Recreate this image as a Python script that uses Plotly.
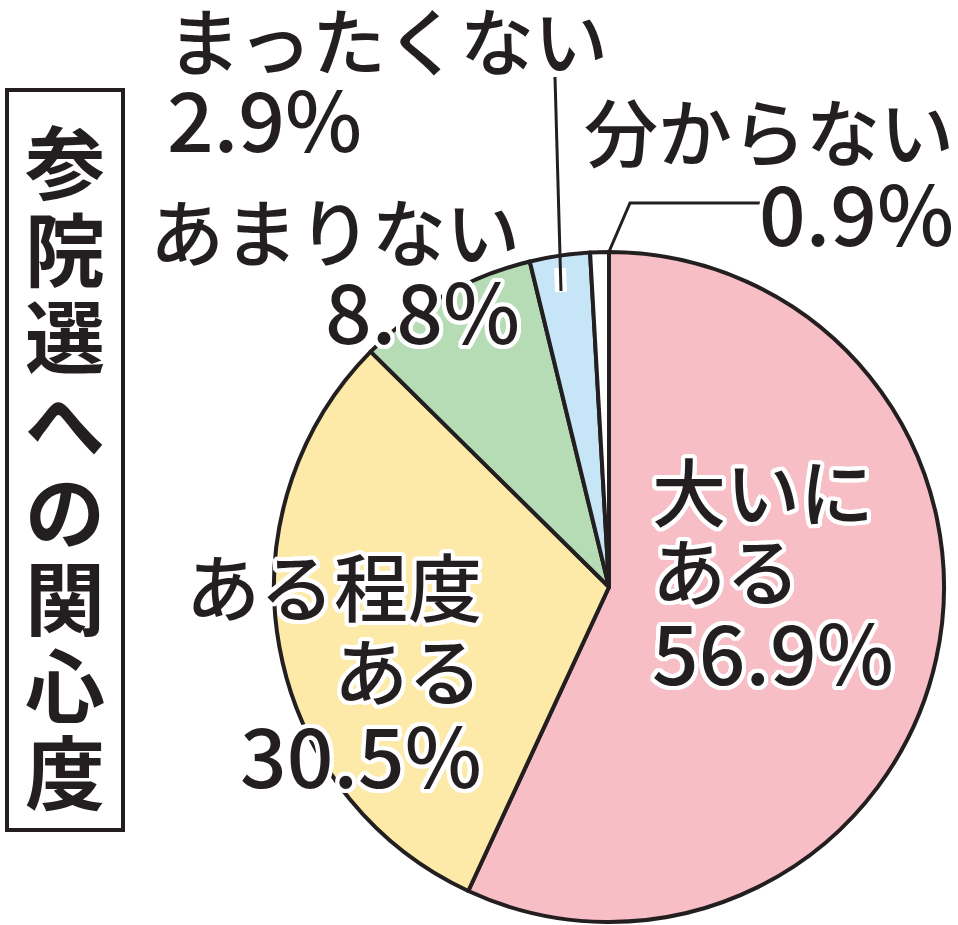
import plotly.graph_objects as go

## data
categories = ['大いにある', 'ある程度ある', 'あまりない', 'まったくない', '分からない']
shares = [56.9, 30.5, 8.8, 2.9, 0.9]
colors = ['#F7BEC6', '#FDEAA8', '#B6DCB6', '#C6E6F7', '#FFFFFF']
title_text = '参院選への関心度'

# label lines per slice (text), positions handled separately
label_lines = [
    ['大いに', 'ある'],
    ['ある程度', 'ある'],
    ['あまりない'],
    ['まったくない'],
    ['分からない'],
]

W, H = 958, 925
INK = '#231F20'
FONT = 'Noto Sans CJK JP'
HALO = ', '.join(f'{dx}px {dy}px 0 white' for dx, dy in
                 [(4, 0), (-4, 0), (0, 4), (0, -4), (3, 3), (-3, -3), (3, -3), (-3, 3),
                  (2, 4), (-2, 4), (2, -4), (-2, -4), (4, 2), (-4, 2), (4, -2), (-4, -2)])


def px(x, y):
    return x / W, 1 - y / H


## pie
cx, cy, r = 609, 587, 335
fig = go.Figure(go.Pie(
    labels=categories,
    values=shares,
    sort=False,
    direction='clockwise',
    rotation=0,
    textinfo='none',
    hoverinfo='label+percent',
    marker=dict(colors=colors, line=dict(color=INK, width=4)),
    domain=dict(x=[(cx - r) / W, (cx + r) / W], y=[(H - cy - r) / H, (H - cy + r) / H]),
    showlegend=False,
))

## leader lines
lines = [
    [(555, 77), (561, 291)],
    [(608, 254), (630, 203), (760, 203)],
]
# white halo where the first leader enters the blue slice
fig.add_shape(type='path', path=f'M {px(560, 268)[0]} {px(560, 268)[1]} L {px(561, 292)[0]} {px(561, 292)[1]}',
              xref='paper', yref='paper', line=dict(color='white', width=12))
for pts in lines:
    path = 'M ' + ' L '.join(f'{px(x, y)[0]} {px(x, y)[1]}' for x, y in pts)
    fig.add_shape(type='path', path=path, xref='paper', yref='paper',
                  line=dict(color=INK, width=3))

## slice labels: (x, anchor, y of text lines, y of percent line)
label_pos = [
    (650, 'left', [488, 567], 649),
    (484, 'right', [583, 667], 752),
    (522, 'right', [228], 309),
    (165, 'left', [37], 116),
    (956, 'right', [128], 210),
]

for lines_txt, val, (x, anchor, ys, yp) in zip(label_lines, shares, label_pos):
    for t, y in zip(lines_txt, ys):
        ax, ay = px(x, y)
        fig.add_annotation(x=ax, y=ay, xref='paper', yref='paper', text=t, showarrow=False,
                           xanchor=anchor, yanchor='middle',
                           font=dict(family=FONT, size=74, color=INK, weight=500, shadow=HALO))
    ax, ay = px(x, yp)
    fig.add_annotation(x=ax, y=ay, xref='paper', yref='paper', text=f'{val}%', showarrow=False,
                       xanchor=anchor, yanchor='middle',
                       font=dict(family=FONT, size=82, color=INK, weight=500, shadow=HALO))

## title box (vertical text)
x0, y0 = px(7, 90)
x1, y1 = px(123, 830)
fig.add_shape(type='rect', x0=x0, y0=y0, x1=x1, y1=y1, xref='paper', yref='paper',
              line=dict(color=INK, width=4), fillcolor='white')
for i, ch in enumerate(title_text):
    ax, ay = px(65, 158 + i * 87.2)
    fig.add_annotation(x=ax, y=ay, xref='paper', yref='paper', text=ch, showarrow=False,
                       xanchor='center', yanchor='middle',
                       font=dict(family=FONT, size=80, color=INK, weight=700))

fig.update_layout(
    width=W, height=H,
    margin=dict(l=0, r=0, t=0, b=0),
    paper_bgcolor='white',
    plot_bgcolor='white',
)

# page body has a default 8px margin; drop it so the figure sits at the corner
fig.write_html('out.html', config={'displayModeBar': False},
               post_script="document.body.style.margin='0';")
